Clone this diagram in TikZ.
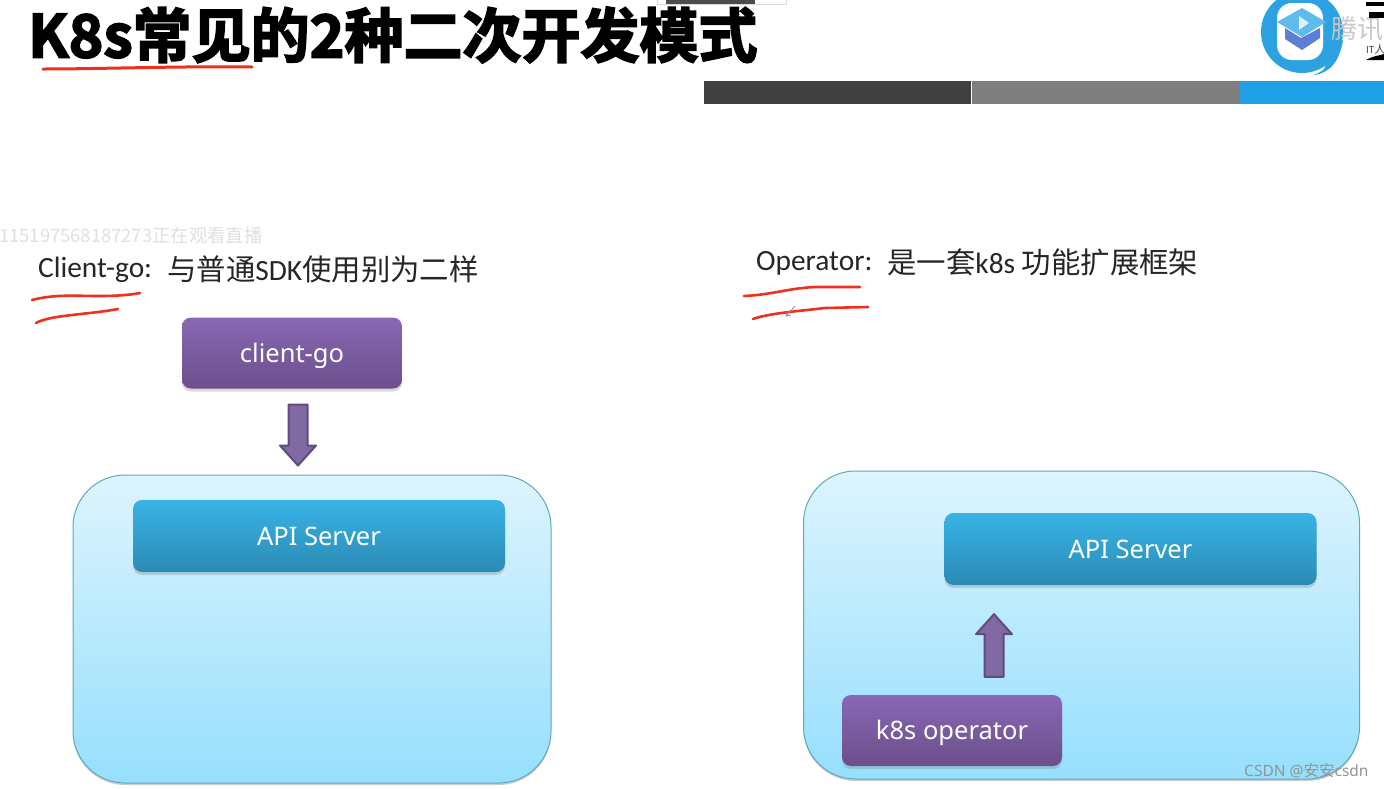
\documentclass[tikz,border=0pt]{standalone}
\usepackage{fontspec}
\setmainfont{Carlito}
\newfontfamily\cjk{Noto Sans CJK SC}
\newfontfamily\cjktitle[FakeBold=3]{Noto Sans CJK SC Bold}
\newfontfamily\boxfont{Noto Sans}
\usetikzlibrary{calc,shadows}
\definecolor{barD}{HTML}{404040}
\definecolor{barG}{HTML}{7F7F7F}
\definecolor{barB}{HTML}{1F9FE6}
\definecolor{purT}{HTML}{8868B4}
\definecolor{purB}{HTML}{6C4F8C}
\definecolor{purE}{HTML}{5F4A82}
\definecolor{purF}{HTML}{8169A3}
\definecolor{bluT}{HTML}{38B4E6}
\definecolor{bluB}{HTML}{2C8AB4}
\definecolor{panT}{HTML}{DDF4FE}
\definecolor{panB}{HTML}{96DFFD}
\definecolor{panE}{HTML}{5FA8BC}
\definecolor{inkR}{HTML}{F0301E}
\definecolor{logoB}{HTML}{2CA2E2}
\definecolor{logoC}{HTML}{5C7ED6}
\definecolor{logoH}{HTML}{5DBBEE}
\newcommand{\boxlabel}[1]{\raisebox{-9pt}[0pt][0pt]{#1}}
\tikzset{
  boxshadow/.style={drop shadow={shadow xshift=0pt,shadow yshift=-3pt,opacity=.3}},
  box/.style={rounded corners=9pt,inner sep=0pt,boxshadow,text=white,font=\boxfont\fontsize{25.5}{28}\selectfont},
  purplebox/.style={box,top color=purT,bottom color=purB},
  bluebox/.style={box,top color=bluT,bottom color=bluB},
  panel/.style={draw=panE,line width=1pt,rounded corners=52pt,inner sep=0pt,top color=panT,bottom color=panB,drop shadow={shadow xshift=0pt,shadow yshift=-2pt,opacity=.4}},
  heading/.style={anchor=west,inner sep=0pt,text=black!85,font=\fontsize{29.4}{34}\selectfont},
  ink/.style={draw=inkR,line width=2.6pt,line cap=round,line join=round},
  blockarrow/.style={draw=purE,line width=2pt,line join=round,fill=purF,to path={
    let \p1=(\tikztostart),\p2=(\tikztotarget),
        \n1={\y2>\y1?1:-1} in
    (\x1-9.5pt,\y1) -- (\x1-9.5pt,{\y2-\n1*20pt}) -- (\x1-18pt,{\y2-\n1*20pt}) -- (\x2,\y2)
    -- (\x1+18pt,{\y2-\n1*20pt}) -- (\x1+9.5pt,{\y2-\n1*20pt}) -- (\x1+9.5pt,\y1) -- cycle}},
}
\begin{document}
\begin{tikzpicture}[x=1pt,y=-1pt]
\useasboundingbox (0,0) rectangle (1384,788);
\fill[white] (0,0) rectangle (1384,788);
% top widget
\fill[white,draw=black!15] (657,-4) rectangle (786,4);
\fill[black!70] (666,-2) rectangle (755,4);
% title
\node[anchor=west,inner sep=0pt,font=\cjktitle\fontsize{59}{62}\selectfont] (title) at (28,35) {K8s常见的2种二次开发模式};
\draw[ink,line width=3pt] (43,69) .. controls (100,69) and (180,66) .. (252,67);
% bars
\fill[barD] (704,81) rectangle (971,104);
\fill[barG] (972,81) rectangle (1240,104);
\fill[barB] (1240,81) rectangle (1384,104);
% logo
\fill[logoB] (1302,32) circle (41);
\fill[logoB] (1323,55) .. controls (1330,68) and (1322,72) .. (1313,75) .. controls (1330,74) and (1340,60) .. (1343,40) -- cycle;
\fill[white,rounded corners=15pt] (1277,3) rectangle (1323,60);
\fill[logoC] (1285,28) -- (1301,38) -- (1320,28) -- (1320,38) -- (1302,50) -- (1285,39) -- cycle;
\fill[logoH] (1277,22) -- (1302,8) -- (1326,22) -- (1302,37) -- cycle;
\fill[white!85!logoB] (1299,16) -- (1309,23) -- (1299,30) -- cycle;
\node[anchor=west,inner sep=0pt,text=black!22,font=\cjk\fontsize{26}{28}\selectfont] (tenc) at (1331,29) {腾讯};
\node[anchor=west,inner sep=0pt,text=black!70,font=\fontsize{11}{12}\selectfont] (itr) at (1366,49) {IT{\cjk 人}};
\fill[black] (1366,2) -- (1384,2) -- (1384,6) -- (1366,6) -- cycle;
\fill[black] (1369,12) rectangle (1384,18);
\fill[black] (1366,60) .. controls (1372,56) and (1378,56) .. (1384,54) -- (1384,60) -- cycle;
% watermark
\node[anchor=west,inner sep=0pt,text=black!12,font=\cjk\fontsize{18.4}{20}\selectfont] (wm) at (-1,236) {115197568187273正在观看直播};
% headings
\node[heading] (h1) at (38,270) {Client-go:};
\node[heading] (h1b) at (167,269) {{\cjk 与普通}SDK{\cjk 使用别为二样}};
\node[heading] (h2) at (756,263) {Operator:};
\node[heading] (h2b) at (887,262) {{\cjk 是一套}k8s {\cjk 功能扩展框架}};
% red marks
\draw[ink] (32,300) .. controls (55,294) and (75,296) .. (100,296) .. controls (115,296) and (130,295) .. (140,293);
\draw[ink] (36,323) .. controls (50,315) and (85,315) .. (118,309);
\draw[ink] (744,296) .. controls (770,295) and (790,288) .. (815,287) -- (860,287);
\draw[ink] (753,319) .. controls (770,313) and (800,311) .. (825,308) -- (868,307);
% panels and boxes
\node[panel,minimum width=478pt,minimum height=308pt] (panelL) at (312,629) {};
\node[panel,minimum width=556pt,minimum height=308pt] (panelR) at (1081.5,625) {};
\node[purplebox,minimum width=220pt,minimum height=71pt] (clientgo) at (292,353) {\boxlabel{client-go}};
\node[bluebox,minimum width=372pt,minimum height=72pt] (apiL) at (319,536) {\boxlabel{API Server}};
\node[bluebox,minimum width=372pt,minimum height=72pt] (apiR) at (1130.5,549) {\boxlabel{API Server}};
\node[purplebox,minimum width=220pt,minimum height=71pt] (k8sop) at (952,730.5) {\boxlabel{k8s operator}};
% connectors
\draw[blockarrow] ($(clientgo.south)+(6,16)$) to ($(panelL.north)+(-14,-9)$);
\draw[blockarrow] ($(k8sop.north)+(42,-18)$) to ($(apiR.south)+(-136.5,29)$);
% cursor
\draw[black!45,line width=.8pt] (786,316) -- (795,306) (788,311) -- (786,316) -- (791,315);
% csdn watermark
\node[anchor=west,inner sep=0pt,text=black!42,font=\fontsize{15.5}{17}\selectfont] (csdn) at (1244,771) {\boxfont CSDN @{\cjk 安安}csdn};
\end{tikzpicture}
\end{document}
